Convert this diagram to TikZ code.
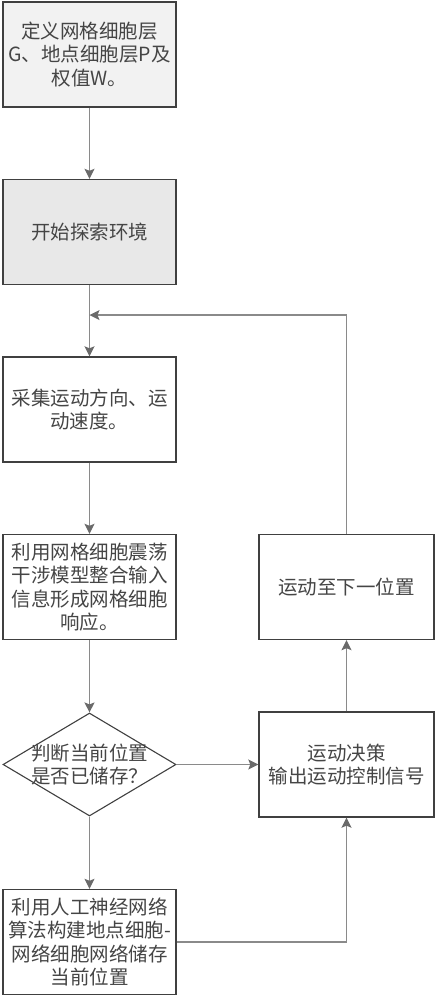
\documentclass[tikz,border=0pt]{standalone}
\usepackage{fontspec}
\setmainfont{Noto Sans CJK SC}
\usepackage{xcolor}
\usepackage{tikz}
\usetikzlibrary{shapes.geometric, arrows.meta, positioning, calc}
\definecolor{edgegray}{HTML}{404040}
\definecolor{linegray}{HTML}{8A8A8A}
\definecolor{tipgray}{HTML}{6A6A6A}
\definecolor{textgray}{HTML}{454545}
\tikzset{
    process/.style={rectangle, minimum width=173pt, minimum height=105pt, inner sep=2pt, align=center, draw=edgegray, line width=1.4pt, text=textgray, font=\fontsize{19.5pt}{23.5pt}\selectfont},
    decision/.style={diamond, minimum width=173pt, minimum height=103pt, inner sep=0pt, draw=edgegray, line width=1.1pt},
    arrow/.style={draw=linegray, line width=1.2pt, -{Stealth[length=10pt, width=10pt, inset=2pt, color=tipgray]}},
    line/.style={draw=linegray, line width=1.2pt}
}

\begin{document}
\begin{tikzpicture}[node distance=177.5pt]
    \useasboundingbox (0,0) rectangle (438pt,-1000pt);
    \node (define) [process, fill=gray!10] at (89.5pt,-54.5pt) {定义网格细胞层\\G、地点细胞层P及\\权值W。};
    \node (start) [process, fill=gray!18, below of=define] {开始探索环境};
    \node (collect) [process, below of=start] {采集运动方向、运\\动速度。};
    \node (fuse) [process, below of=collect] {利用网格细胞震荡\\干涉模型整合输入\\信息形成网格细胞\\响应。};
    \node (judge) [decision, below of=fuse, label={[text=textgray, font=\fontsize{19.5pt}{23.5pt}\selectfont, align=center]center:判断当前位置\\是否已储存？}] {};
    \node (store) [process, below of=judge] {利用人工神经网络\\算法构建地点细胞-\\网络细胞网络储存\\当前位置};
    \node (move) [process, minimum width=175pt, right of=fuse, node distance=257pt] {运动至下一位置};
    \node (decide) [process, minimum width=175pt, below of=move] {运动决策\\输出运动控制信号};
    \coordinate (back) at ($(start.south)!0.42!(collect.north)$);

    \draw [arrow] (define) -- (start);
    \draw [arrow] (start) -- (collect);
    \draw [arrow] (collect) -- (fuse);
    \draw [arrow] (fuse) -- (judge);
    \draw [arrow] (judge) -- (store);
    \draw [arrow] (judge.east) -- (decide.west);
    \draw [arrow] (store.east) -| (decide.south);
    \draw [arrow] (decide) -- (move);
    \draw [arrow] (move.north) |- (back);
\end{tikzpicture}
\end{document}
